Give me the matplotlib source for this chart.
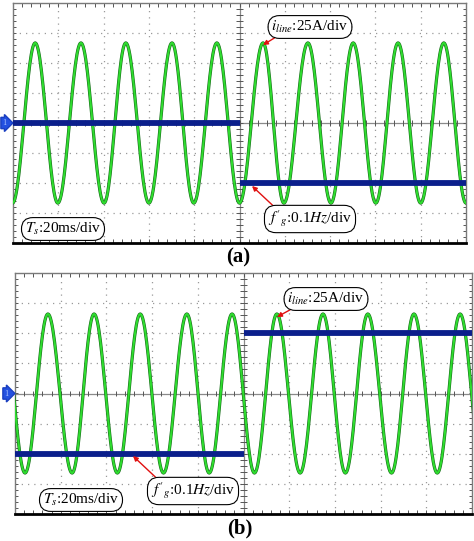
import numpy as np
import matplotlib
matplotlib.use("Agg")
import matplotlib.pyplot as plt
import matplotlib.patheffects as pe

plt.rcParams["font.family"] = ["Liberation Serif", "DejaVu Serif"]
plt.rcParams["mathtext.fontset"] = "stix"

# ===============================================================================
#         Data (units: divisions)
# ===============================================================================

# times of the i_line peaks and troughs, per panel
peaks_a = [0.49, 1.50, 2.49, 3.51, 4.50, 5.52, 6.51, 7.51, 8.50, 9.51]
troughs_a = [-0.01, 0.99, 2.01, 3.00, 3.99, 5.00, 5.98, 7.02, 8.01, 9.00, 10.0]
peaks_b = [-0.28, 0.72, 1.73, 2.74, 3.76, 4.75, 5.73, 6.74, 7.72, 8.73, 9.74]
troughs_b = [0.22, 1.25, 2.24, 3.25, 4.25, 5.24, 6.24, 7.23, 8.24, 9.24, 10.24]
amp_a = 2.67
amp_b = 2.64

# f'_g trace level before / after the step at t = 5 div
step_time = 5.0
fg_a = [0.0, -2.0]
fg_b = [-2.0, 2.0]

labels = ["(a)", "(b)"]

W, H = 474, 541
GREEN = "#2fdc2f"
EDGE = "#166a18"
NAVY = "#0b1f8c"


def extremes_trace(peaks, troughs, amp):
    """Join the read extremes with half-cosine pieces."""
    pts = sorted([(t, amp) for t in peaks] + [(t, -amp) for t in troughs])
    xs, ys = [], []
    for (t0, v0), (t1, v1) in zip(pts[:-1], pts[1:]):
        s = np.linspace(0, 1, 30)
        xs.append(t0 + (t1 - t0) * s)
        ys.append(v0 + (v1 - v0) * (1 - np.cos(np.pi * s)) / 2)
    return np.concatenate(xs), np.concatenate(ys)


def scope_axes(fig, box):
    left, top, right, bottom = box
    ax = fig.add_axes([left / W, 1 - bottom / H, (right - left) / W, (bottom - top) / H])
    ax.set_xlim(0, 10)
    ax.set_ylim(-4, 4)
    ax.set_xticks([])
    ax.set_yticks([])
    for s in ["top", "left", "right"]:
        ax.spines[s].set_color("#7a7a7a")
        ax.spines[s].set_linewidth(1.0)
    ax.spines["bottom"].set_color("black")
    ax.spines["bottom"].set_linewidth(2.0)
    # dotted graticule
    for x in range(1, 10):
        if x != 5:
            ax.axvline(x, color="#9a9a9a", lw=0.9, ls=(0, (1, 4)), zorder=1)
    for y in range(-3, 4):
        if y != 0:
            ax.axhline(y, color="#9a9a9a", lw=0.9, ls=(0, (1, 4)), zorder=1)
    # centre cross
    ax.axvline(5, color="#8a8a8a", lw=0.9, zorder=1)
    ax.axhline(0, color="#8a8a8a", lw=0.9, zorder=1)
    sub = np.arange(0, 10.01, 0.2)
    ax.vlines(sub, -0.09, 0.09, color="#555555", lw=0.7, zorder=1)
    ax.vlines(sub, 3.88, 4, color="#555555", lw=0.7, zorder=1)
    ax.vlines(sub, -4, -3.88, color="#555555", lw=0.7, zorder=1)
    suby = np.arange(-4, 4.01, 0.2)
    ax.hlines(suby, 4.92, 5.08, color="#555555", lw=0.7, zorder=1)
    ax.hlines(suby, 0, 0.07, color="#555555", lw=0.7, zorder=1)
    ax.hlines(suby, 9.93, 10, color="#555555", lw=0.7, zorder=1)
    return ax


def draw_panel(ax, peaks, troughs, amp, fg):
    t, v = extremes_trace(peaks, troughs, amp)
    ax.plot(t, v, color=GREEN, lw=1.5, zorder=3,
            path_effects=[pe.Stroke(linewidth=2.3, foreground=EDGE), pe.Normal()])
    ax.plot([0, step_time], [fg[0], fg[0]], color=NAVY, lw=4.2,
            solid_capstyle="butt", zorder=4)
    ax.plot([step_time, 10], [fg[1], fg[1]], color=NAVY, lw=4.2,
            solid_capstyle="butt", zorder=4)
    # ground marker
    ax.annotate("1", xy=(0, 0), xytext=(-6, 0), textcoords="offset points",
                ha="center", va="center", fontsize=6, color="#a9c2ff",
                annotation_clip=False,
                bbox=dict(boxstyle="rarrow,pad=0.2", fc="#2350e0", ec="#1a3fc0"))


def label(ax, text, xy_px, arrow_px=None):
    box = dict(boxstyle="round,pad=0.22,rounding_size=0.75", fc="white",
               ec="black", lw=0.8)
    fig = ax.figure
    fx, fy = xy_px[0] / W, 1 - xy_px[1] / H
    if arrow_px is None:
        fig.text(fx, fy, text, ha="center", va="center", fontsize=11,
                 bbox=box, zorder=10)
    else:
        ax.annotate(text, xy=(arrow_px[0] / W, 1 - arrow_px[1] / H),
                    xycoords="figure fraction",
                    xytext=(fx, fy), textcoords="figure fraction",
                    ha="center", va="center", fontsize=11, bbox=box,
                    arrowprops=dict(arrowstyle="-|>", color="#e01010", lw=1.0,
                                    mutation_scale=7, shrinkA=0, shrinkB=0,
                                    relpos=(0.1, 0.0) if arrow_px[1] > xy_px[1]
                                    else (0.1, 1.0)),
                    zorder=10)


fig = plt.figure(figsize=(W / 100, H / 100), dpi=100)

ax_a = scope_axes(fig, (13, 3, 466, 243))
draw_panel(ax_a, peaks_a, troughs_a, amp_a, fg_a)
label(ax_a, r"$i_{line}$:25A/div", (310, 27), arrow_px=(263, 45))
label(ax_a, r"$T_s$:20ms/div", (63, 229))
label(ax_a, r"$f'_g$:0.1$Hz$/div", (310, 219), arrow_px=(252, 186))

ax_b = scope_axes(fig, (15, 273, 472, 514))
draw_panel(ax_b, peaks_b, troughs_b, amp_b, fg_b)
label(ax_b, r"$i_{line}$:25A/div", (326, 299), arrow_px=(277, 317))
label(ax_b, r"$T_s$:20ms/div", (81, 500))
label(ax_b, r"$f'_g$:0.1$Hz$/div", (193, 491), arrow_px=(133, 456))

fig.text(238 / W, 1 - 257 / H, labels[0], ha="center", va="center",
         fontsize=15, fontweight="bold")
fig.text(240 / W, 1 - 528 / H, labels[1], ha="center", va="center",
         fontsize=15, fontweight="bold")

fig.savefig("out.png", dpi=100)
